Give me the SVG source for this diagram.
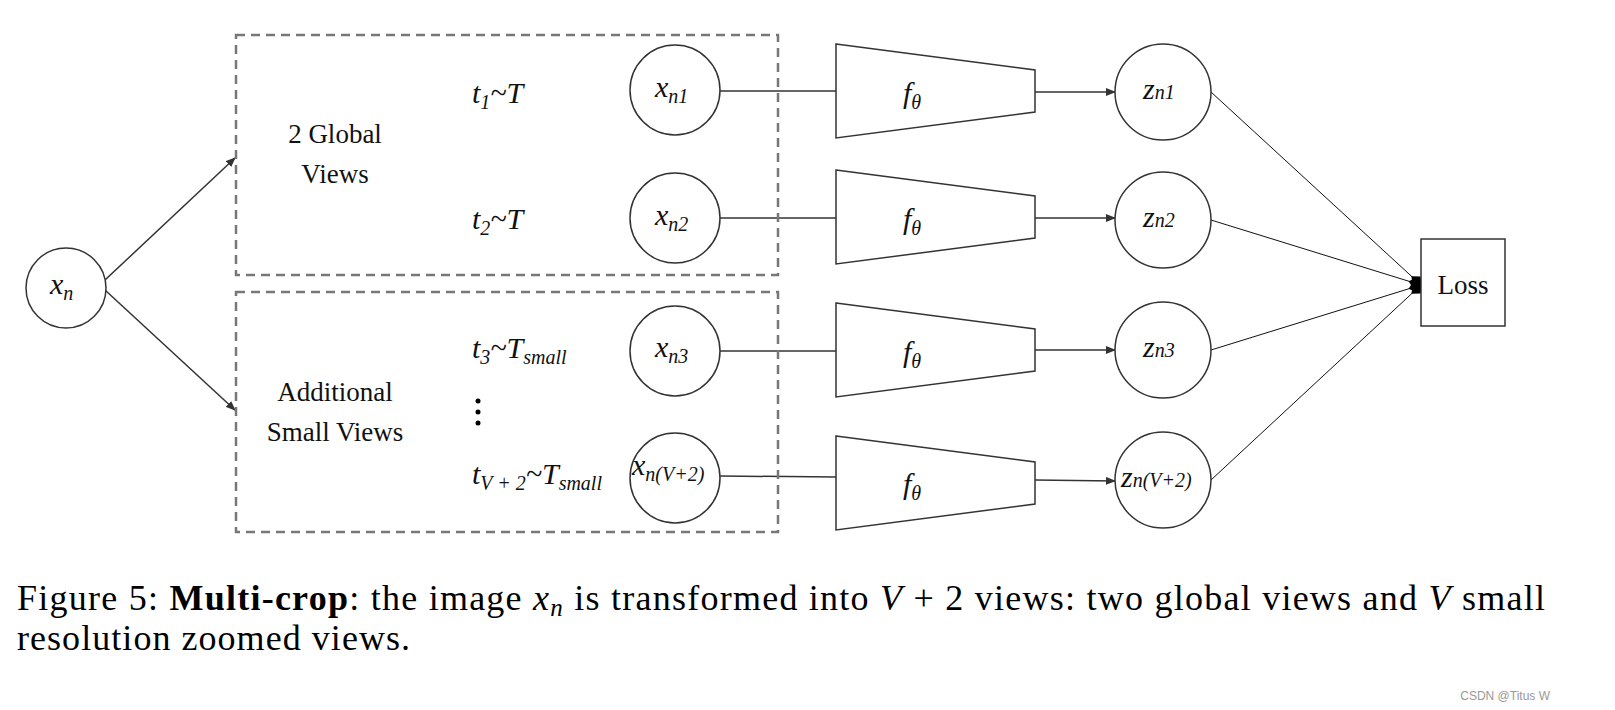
<svg xmlns="http://www.w3.org/2000/svg" width="1615" height="710" viewBox="0 0 1615 710">
<defs>
<marker id="ah" markerWidth="10" markerHeight="8" refX="9" refY="4" orient="auto" markerUnits="userSpaceOnUse"><path d="M0,0 L10,4 L0,8 z" fill="#333"/></marker>
<marker id="ad" markerWidth="14" markerHeight="12" refX="13" refY="6" orient="auto" markerUnits="userSpaceOnUse"><path d="M0,6 L7,0 L14,6 L7,12 z" fill="#000"/></marker>
</defs>
<style>
.c{fill:#fff;stroke:#333;stroke-width:1.5}
.d{fill:none;stroke:#777;stroke-width:2.5;stroke-dasharray:9,6}
.t{font-family:"Liberation Serif",serif;font-size:27px;fill:#111}
.i{font-family:"Liberation Serif",serif;font-style:italic;font-size:30px;fill:#111}
.s{font-size:20px}
.l{stroke:#333;stroke-width:1.5;fill:none}
.k{stroke:#111;stroke-width:1;fill:none}
.cap{font-family:"Liberation Serif",serif;font-size:36px;fill:#000}
</style>
<rect width="1615" height="710" fill="#fff"/>
<g id="connectors">
<line class="l" x1="105" y1="280" x2="235" y2="158" marker-end="url(#ah)"/>
<line class="l" x1="105" y1="290" x2="235" y2="410" marker-end="url(#ah)"/>
<line class="l" x1="720" y1="91" x2="836" y2="91"/>
<line class="l" x1="720" y1="218" x2="836" y2="218"/>
<line class="l" x1="720" y1="351" x2="836" y2="351"/>
<line class="l" x1="720" y1="476" x2="836" y2="477"/>
<line class="l" x1="1035" y1="92" x2="1115" y2="92" marker-end="url(#ah)"/>
<line class="l" x1="1035" y1="218" x2="1115" y2="218" marker-end="url(#ah)"/>
<line class="l" x1="1035" y1="350" x2="1115" y2="350" marker-end="url(#ah)"/>
<line class="l" x1="1035" y1="480" x2="1115" y2="481" marker-end="url(#ah)"/>
<line class="k" x1="1211" y1="92" x2="1421" y2="285" marker-end="url(#ad)"/>
<line class="k" x1="1211" y1="220" x2="1421" y2="285" marker-end="url(#ad)"/>
<line class="k" x1="1211" y1="350" x2="1421" y2="285" marker-end="url(#ad)"/>
<line class="k" x1="1211" y1="480" x2="1421" y2="285" marker-end="url(#ad)"/>
</g>
<g id="global-box"><rect class="d" x="236" y="35" width="542" height="240"/>
<text class="t" x="335" y="143" text-anchor="middle">2 Global</text><text class="t" x="335" y="183" text-anchor="middle">Views</text></g>
<g id="small-box"><rect class="d" x="236" y="292" width="542" height="240"/>
<text class="t" x="335" y="401" text-anchor="middle">Additional</text><text class="t" x="335" y="441" text-anchor="middle">Small Views</text></g>
<g id="xn"><circle class="c" cx="66" cy="288" r="40"/><text class="i" x="50" y="294">x<tspan class="s" dy="6">n</tspan></text></g>
<g id="t1"><text class="i" x="472" y="103">t<tspan class="s" dy="6">1</tspan><tspan dy="-6">~T</tspan></text></g>
<g id="t2"><text class="i" x="472" y="229">t<tspan class="s" dy="6">2</tspan><tspan dy="-6">~T</tspan></text></g>
<g id="t3"><text class="i" x="472" y="358">t<tspan class="s" dy="6">3</tspan><tspan dy="-6">~T</tspan><tspan class="s" dy="6">small</tspan></text></g>
<g id="dots"><circle cx="478" cy="401" r="2.5" fill="#000"/><circle cx="478" cy="412" r="2.5" fill="#000"/><circle cx="478" cy="423" r="2.5" fill="#000"/></g>
<g id="tV"><text class="i" x="472" y="484">t<tspan class="s" dy="6">V + 2</tspan><tspan dy="-6">~T</tspan><tspan class="s" dy="6">small</tspan></text></g>
<g id="xn1"><circle class="c" cx="675" cy="90" r="45"/><text class="i" x="655" y="97">x<tspan class="s" dy="6">n1</tspan></text></g>
<g id="xn2"><circle class="c" cx="675" cy="218" r="45"/><text class="i" x="655" y="225">x<tspan class="s" dy="6">n2</tspan></text></g>
<g id="xn3"><circle class="c" cx="675" cy="351" r="45"/><text class="i" x="655" y="357">x<tspan class="s" dy="6">n3</tspan></text></g>
<g id="xnV"><circle class="c" cx="675" cy="478" r="45"/><text class="i" x="632" y="475">x<tspan class="s" dy="6">n(V+2)</tspan></text></g>
<g id="f1"><polygon class="c" points="836,44 1035,70 1035,112 836,138"/><text class="i" x="903" y="103">f<tspan class="s" dy="6">θ</tspan></text></g>
<g id="f2"><polygon class="c" points="836,170 1035,196 1035,238 836,264"/><text class="i" x="903" y="229">f<tspan class="s" dy="6">θ</tspan></text></g>
<g id="f3"><polygon class="c" points="836,303 1035,329 1035,371 836,397"/><text class="i" x="903" y="362">f<tspan class="s" dy="6">θ</tspan></text></g>
<g id="f4"><polygon class="c" points="836,436 1035,462 1035,504 836,530"/><text class="i" x="903" y="494">f<tspan class="s" dy="6">θ</tspan></text></g>
<g id="zn1"><circle class="c" cx="1163" cy="92" r="48"/><text class="i" x="1143" y="99">z<tspan class="s">n1</tspan></text></g>
<g id="zn2"><circle class="c" cx="1163" cy="220" r="48"/><text class="i" x="1143" y="227">z<tspan class="s">n2</tspan></text></g>
<g id="zn3"><circle class="c" cx="1163" cy="350" r="48"/><text class="i" x="1143" y="357">z<tspan class="s">n3</tspan></text></g>
<g id="znV"><circle class="c" cx="1163" cy="480" r="48"/><text class="i" x="1121" y="487">z<tspan class="s">n(V+2)</tspan></text></g>
<g id="loss"><rect class="c" x="1421" y="239" width="84" height="87"/><text class="t" x="1463" y="294" text-anchor="middle">Loss</text></g>
<g id="caption">
<text class="cap" x="17" y="610" textLength="1528" lengthAdjust="spacing">Figure 5: <tspan font-weight="bold">Multi-crop</tspan>: the image <tspan font-style="italic">x<tspan font-size="25" dy="6">n</tspan></tspan><tspan dy="-6"> is transformed into </tspan><tspan font-style="italic">V</tspan> + 2 views: two global views and <tspan font-style="italic">V</tspan> small</text>
<text class="cap" x="17" y="650" textLength="393" lengthAdjust="spacing">resolution zoomed views.</text>
<text x="1550" y="700" text-anchor="end" font-family="Liberation Sans,sans-serif" font-size="12" fill="#999">CSDN @Titus W</text>
</g>
</svg>
